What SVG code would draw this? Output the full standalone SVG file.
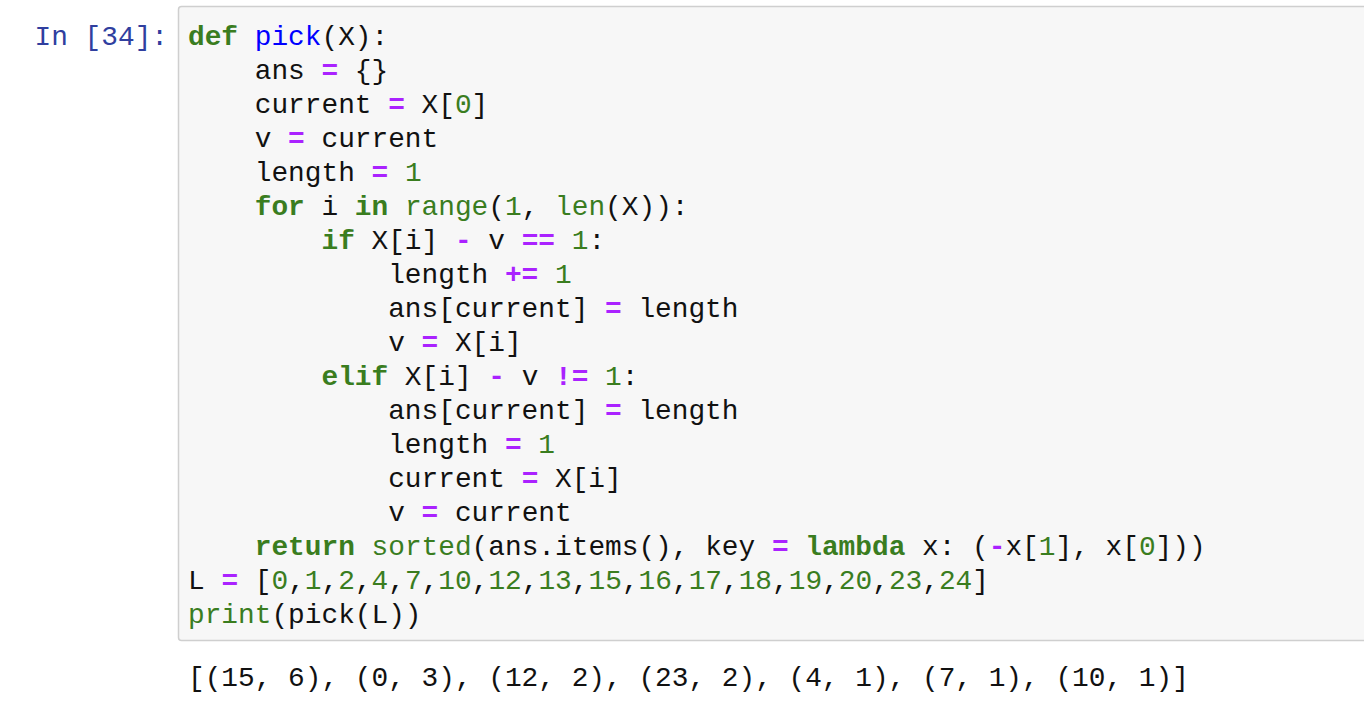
<svg xmlns="http://www.w3.org/2000/svg" width="1364" height="714" viewBox="0 0 1364 714">
<style>
text{font-family:"Liberation Mono","DejaVu Sans Mono",monospace;font-size:27.8px;fill:#111;white-space:pre}
.k{fill:#3a7d1f;font-weight:bold}
.b{fill:#3a7d1f}
.n{fill:#3a7d1f}
.o{fill:#aa22ff;font-weight:bold}
.f{fill:#0000ff}
.p{fill:#303f9f}
</style>
<rect width="1364" height="714" fill="#fff"/>
<g id="prompt"><text x="168" y="45" text-anchor="end" class="p">In [34]:</text></g>
<g id="cell">
<rect x="178.5" y="6.5" width="1200" height="634" rx="3" fill="#f7f7f7" stroke="#cfcfcf" stroke-width="1.5"/>
<text xml:space="preserve" x="188" y="45"><tspan class="k">def</tspan> <tspan class="f">pick</tspan>(X):</text>
<text xml:space="preserve" x="188" y="79">    ans <tspan class="o">=</tspan> {}</text>
<text xml:space="preserve" x="188" y="113">    current <tspan class="o">=</tspan> X[<tspan class="n">0</tspan>]</text>
<text xml:space="preserve" x="188" y="147">    v <tspan class="o">=</tspan> current</text>
<text xml:space="preserve" x="188" y="181">    length <tspan class="o">=</tspan> <tspan class="n">1</tspan></text>
<text xml:space="preserve" x="188" y="215">    <tspan class="k">for</tspan> i <tspan class="k">in</tspan> <tspan class="b">range</tspan>(<tspan class="n">1</tspan>, <tspan class="b">len</tspan>(X)):</text>
<text xml:space="preserve" x="188" y="249">        <tspan class="k">if</tspan> X[i] <tspan class="o">-</tspan> v <tspan class="o">==</tspan> <tspan class="n">1</tspan>:</text>
<text xml:space="preserve" x="188" y="283">            length <tspan class="o">+=</tspan> <tspan class="n">1</tspan></text>
<text xml:space="preserve" x="188" y="317">            ans[current] <tspan class="o">=</tspan> length</text>
<text xml:space="preserve" x="188" y="351">            v <tspan class="o">=</tspan> X[i]</text>
<text xml:space="preserve" x="188" y="385">        <tspan class="k">elif</tspan> X[i] <tspan class="o">-</tspan> v <tspan class="o">!=</tspan> <tspan class="n">1</tspan>:</text>
<text xml:space="preserve" x="188" y="419">            ans[current] <tspan class="o">=</tspan> length</text>
<text xml:space="preserve" x="188" y="453">            length <tspan class="o">=</tspan> <tspan class="n">1</tspan></text>
<text xml:space="preserve" x="188" y="487">            current <tspan class="o">=</tspan> X[i]</text>
<text xml:space="preserve" x="188" y="521">            v <tspan class="o">=</tspan> current</text>
<text xml:space="preserve" x="188" y="555">    <tspan class="k">return</tspan> <tspan class="b">sorted</tspan>(ans.items(), key <tspan class="o">=</tspan> <tspan class="k">lambda</tspan> x: (<tspan class="o">-</tspan>x[<tspan class="n">1</tspan>], x[<tspan class="n">0</tspan>]))</text>
<text xml:space="preserve" x="188" y="589">L <tspan class="o">=</tspan> [<tspan class="n">0</tspan>,<tspan class="n">1</tspan>,<tspan class="n">2</tspan>,<tspan class="n">4</tspan>,<tspan class="n">7</tspan>,<tspan class="n">10</tspan>,<tspan class="n">12</tspan>,<tspan class="n">13</tspan>,<tspan class="n">15</tspan>,<tspan class="n">16</tspan>,<tspan class="n">17</tspan>,<tspan class="n">18</tspan>,<tspan class="n">19</tspan>,<tspan class="n">20</tspan>,<tspan class="n">23</tspan>,<tspan class="n">24</tspan>]</text>
<text xml:space="preserve" x="188" y="623"><tspan class="b">print</tspan>(pick(L))</text>
</g>
<g id="output"><text xml:space="preserve" x="188" y="686">[(15, 6), (0, 3), (12, 2), (23, 2), (4, 1), (7, 1), (10, 1)]</text></g>
</svg>
